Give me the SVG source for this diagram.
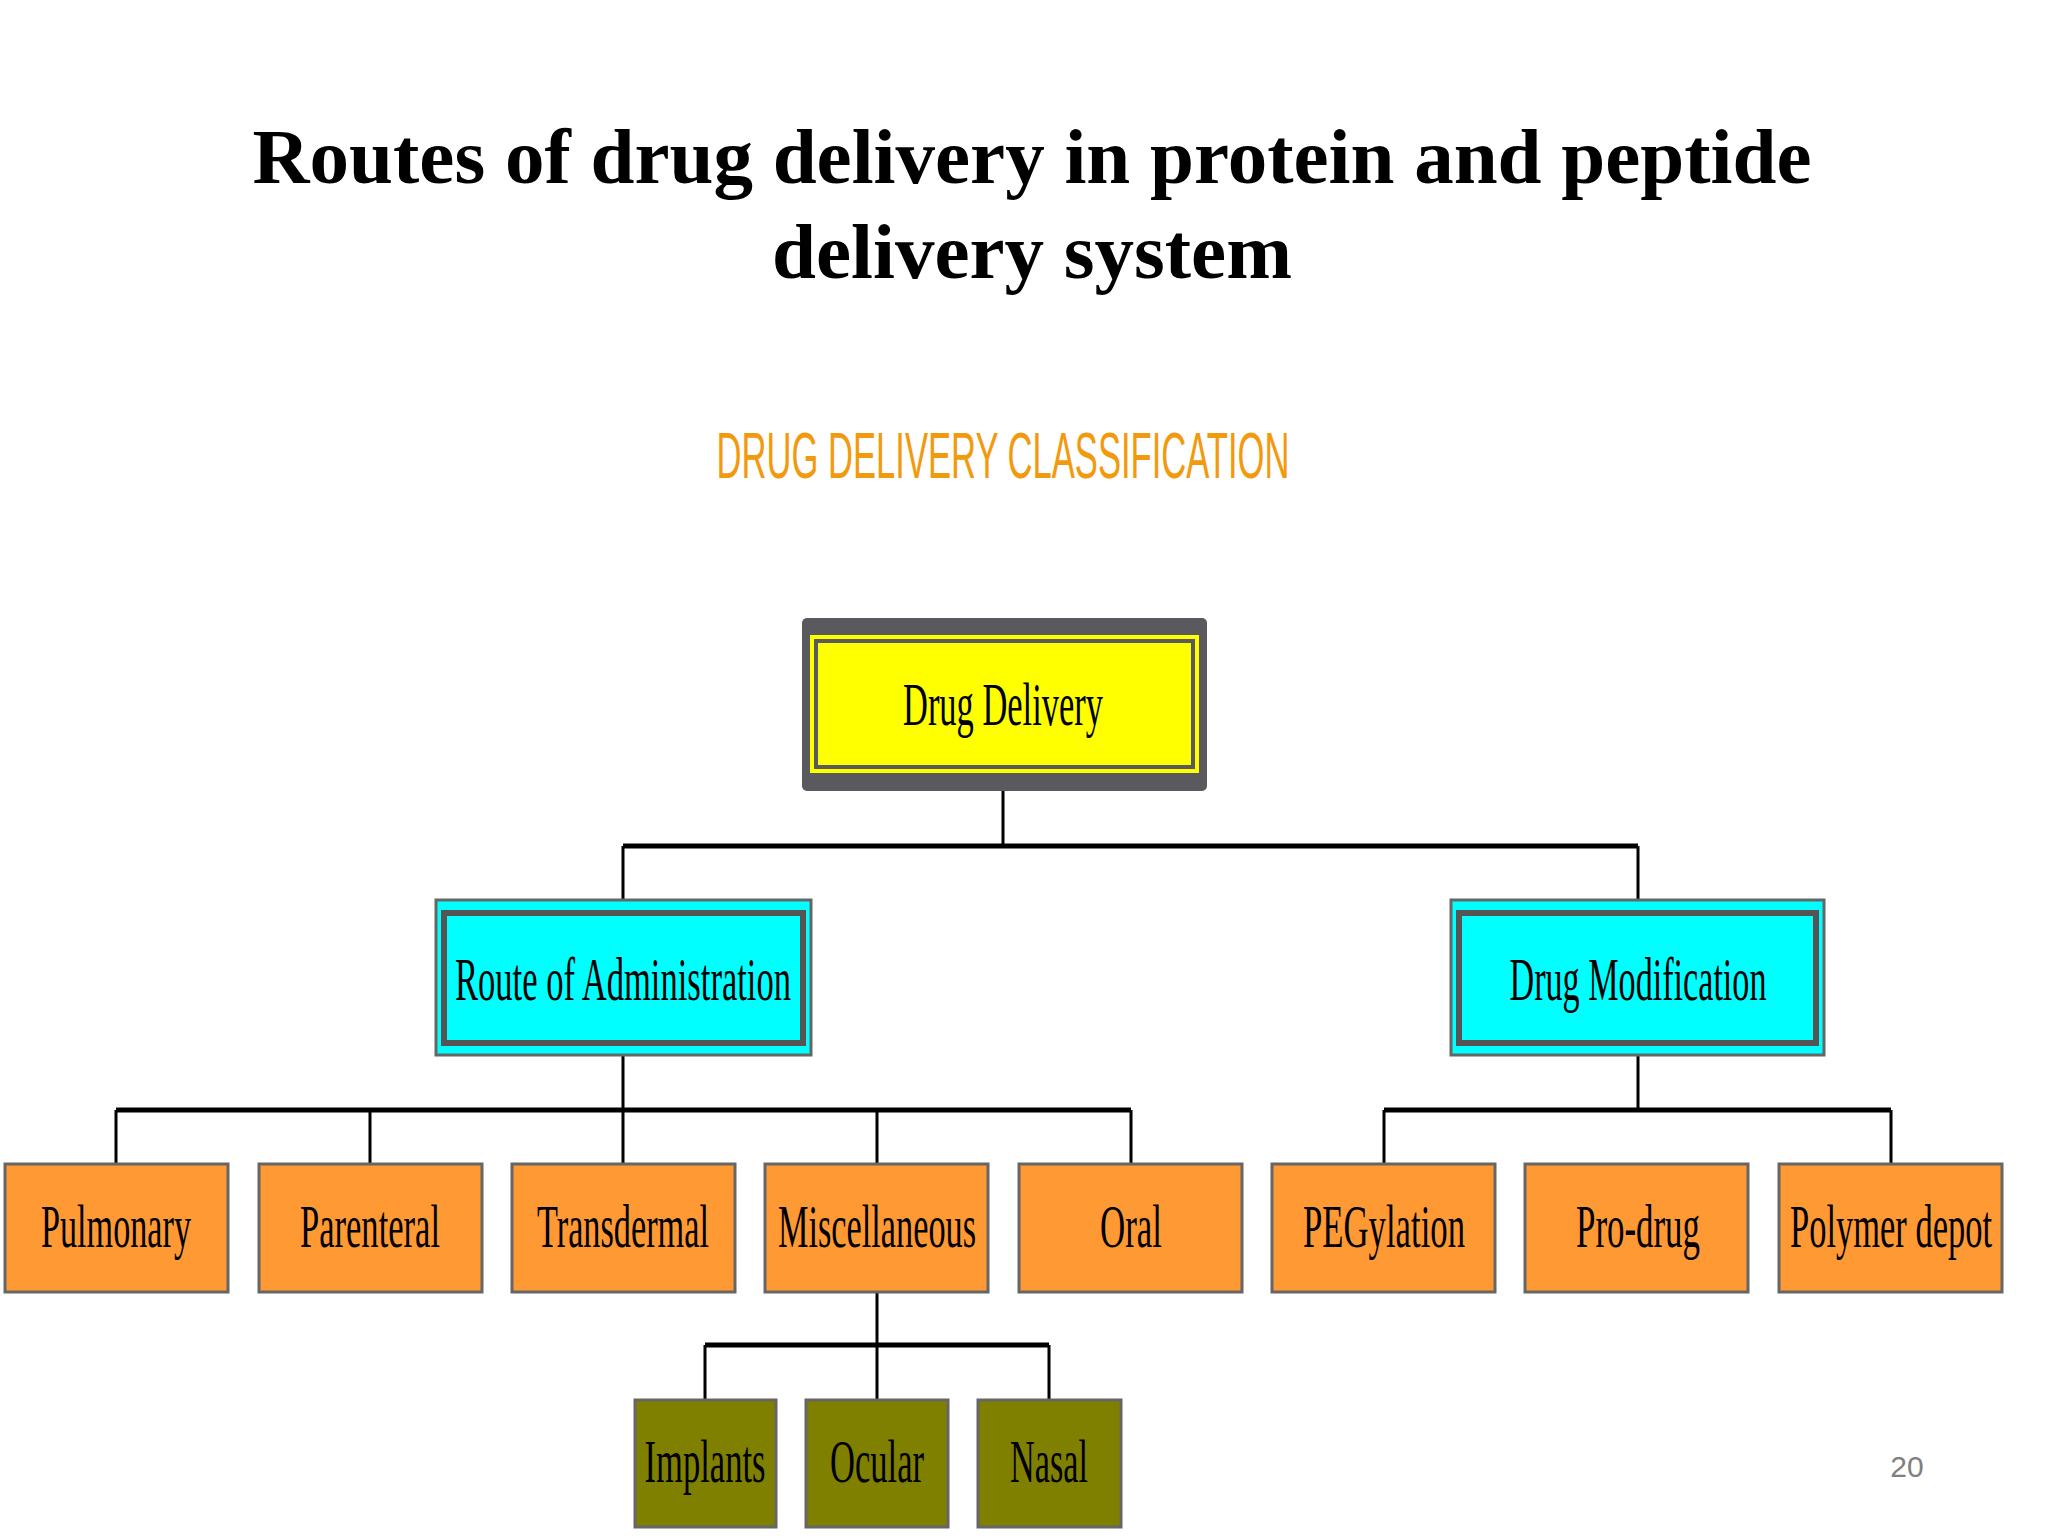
<svg xmlns="http://www.w3.org/2000/svg" width="2048" height="1536" viewBox="0 0 2048 1536">
<style>
.t{font-family:"Liberation Serif",serif;fill:#000;text-anchor:middle}
.o{fill:#FF9933;stroke:#666;stroke-width:3}
.g{fill:#808000;stroke:#666;stroke-width:3}
.c{stroke:#000;fill:none}
</style>
<rect width="2048" height="1536" fill="#fff"/>
<text x="1032" y="183" class="t" font-size="79" font-weight="bold">Routes of drug delivery in protein and peptide</text>
<text x="1032" y="278" class="t" font-size="79" font-weight="bold">delivery system</text>
<text x="1003" y="478" font-family="Liberation Sans,sans-serif" font-size="64" fill="#F29A0E" text-anchor="middle" textLength="573" lengthAdjust="spacingAndGlyphs">DRUG DELIVERY CLASSIFICATION</text>
<g id="connectors">
<path class="c" stroke-width="3" d="M1003 791V846M623 900V846M1638 900V846M623 1055V1110M1638 1055V1110M116 1164V1110M370 1164V1110M623 1164V1110M877 1164V1110M1131 1164V1110M1384 1164V1110M1891 1164V1110M877 1292V1345M705 1400V1345M877 1400V1345M1049 1400V1345"/>
<path class="c" stroke-width="5" d="M623 846H1638M116 1110H1131M1384 1110H1891M705 1345H1049"/>
</g>
<g id="drug-delivery">
<rect x="802" y="618" width="405" height="173" rx="5" fill="#5a5a5e"/>
<rect x="810" y="635" width="389" height="138" fill="#FFFF00"/>
<rect x="816" y="641" width="377" height="126" fill="none" stroke="#5a5a5e" stroke-width="4"/>
<text x="1003" y="725" class="t" font-size="62" textLength="200" lengthAdjust="spacingAndGlyphs">Drug Delivery</text>
</g>
<g id="route">
<rect x="436" y="900" width="375" height="155" fill="#00FFFF" stroke="#666" stroke-width="3"/>
<rect x="444" y="913" width="359" height="130" fill="none" stroke="#555" stroke-width="6"/>
<text x="623" y="1000" class="t" font-size="62" textLength="336" lengthAdjust="spacingAndGlyphs">Route of Administration</text>
</g>
<g id="modification">
<rect x="1451" y="900" width="373" height="155" fill="#00FFFF" stroke="#666" stroke-width="3"/>
<rect x="1459" y="913" width="357" height="130" fill="none" stroke="#555" stroke-width="6"/>
<text x="1638" y="1000" class="t" font-size="62" textLength="257" lengthAdjust="spacingAndGlyphs">Drug Modification</text>
</g>
<g id="pulmonary"><rect class="o" x="5" y="1164" width="223" height="128"/><text x="116" y="1247" class="t" font-size="62" textLength="150" lengthAdjust="spacingAndGlyphs">Pulmonary</text></g>
<g id="parenteral"><rect class="o" x="259" y="1164" width="223" height="128"/><text x="370" y="1247" class="t" font-size="62" textLength="140" lengthAdjust="spacingAndGlyphs">Parenteral</text></g>
<g id="transdermal"><rect class="o" x="512" y="1164" width="223" height="128"/><text x="623" y="1247" class="t" font-size="62" textLength="172" lengthAdjust="spacingAndGlyphs">Transdermal</text></g>
<g id="misc"><rect class="o" x="765" y="1164" width="223" height="128"/><text x="877" y="1247" class="t" font-size="62" textLength="198" lengthAdjust="spacingAndGlyphs">Miscellaneous</text></g>
<g id="oral"><rect class="o" x="1019" y="1164" width="223" height="128"/><text x="1131" y="1247" class="t" font-size="62" textLength="62" lengthAdjust="spacingAndGlyphs">Oral</text></g>
<g id="pegylation"><rect class="o" x="1272" y="1164" width="223" height="128"/><text x="1384" y="1247" class="t" font-size="62" textLength="162" lengthAdjust="spacingAndGlyphs">PEGylation</text></g>
<g id="prodrug"><rect class="o" x="1525" y="1164" width="223" height="128"/><text x="1638" y="1247" class="t" font-size="62" textLength="124" lengthAdjust="spacingAndGlyphs">Pro-drug</text></g>
<g id="polymer"><rect class="o" x="1779" y="1164" width="223" height="128"/><text x="1891" y="1247" class="t" font-size="62" textLength="202" lengthAdjust="spacingAndGlyphs">Polymer depot</text></g>
<g id="implants"><rect class="g" x="635" y="1400" width="141" height="127"/><text x="705" y="1482" class="t" font-size="62" textLength="121" lengthAdjust="spacingAndGlyphs">Implants</text></g>
<g id="ocular"><rect class="g" x="806" y="1400" width="142" height="127"/><text x="877" y="1482" class="t" font-size="62" textLength="94" lengthAdjust="spacingAndGlyphs">Ocular</text></g>
<g id="nasal"><rect class="g" x="978" y="1400" width="143" height="127"/><text x="1049" y="1482" class="t" font-size="62" textLength="78" lengthAdjust="spacingAndGlyphs">Nasal</text></g>
<text x="1907" y="1477" font-family="Liberation Sans,sans-serif" font-size="30" fill="#808080" text-anchor="middle">20</text>
</svg>
